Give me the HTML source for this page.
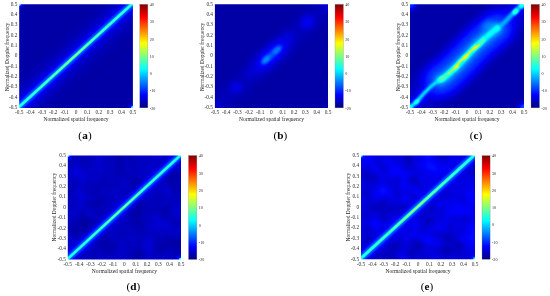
<!DOCTYPE html>
<html><head><meta charset="utf-8"><title>Figure</title>
<style>
html,body{margin:0;padding:0;background:#fff;}
body{width:550px;height:296px;overflow:hidden;}
svg{display:block;}
text{font-family:"Liberation Serif", "Times New Roman", serif;}
</style></head><body>
<svg width="550" height="296" viewBox="0 0 550 296">
<defs>
<linearGradient id="jetg" x1="0" y1="1" x2="0" y2="0"><stop offset="0" stop-color="rgb(0,0,128)"/><stop offset="0.125" stop-color="rgb(0,0,255)"/><stop offset="0.375" stop-color="rgb(0,255,255)"/><stop offset="0.625" stop-color="rgb(255,255,0)"/><stop offset="0.875" stop-color="rgb(255,0,0)"/><stop offset="1" stop-color="rgb(128,0,0)"/></linearGradient>
<filter id="jet" x="0" y="0" width="1" height="1" color-interpolation-filters="sRGB"><feComponentTransfer><feFuncR type="table" tableValues="0 0 0 0 0.5 1 1 1 0.5"/><feFuncG type="table" tableValues="0 0 0.5 1 1 1 0.5 0 0"/><feFuncB type="table" tableValues="0.5 1 1 1 0.5 0 0 0 0"/></feComponentTransfer></filter>
<filter id="bl6" x="-50%" y="-50%" width="200%" height="200%" color-interpolation-filters="sRGB"><feGaussianBlur stdDeviation="6"/></filter>
<filter id="bl3" x="-50%" y="-50%" width="200%" height="200%" color-interpolation-filters="sRGB"><feGaussianBlur stdDeviation="3"/></filter>
<filter id="bl1_6" x="-50%" y="-50%" width="200%" height="200%" color-interpolation-filters="sRGB"><feGaussianBlur stdDeviation="1.6"/></filter>
<filter id="bl1" x="-50%" y="-50%" width="200%" height="200%" color-interpolation-filters="sRGB"><feGaussianBlur stdDeviation="1.0"/></filter>
<filter id="bl0_65" x="-50%" y="-50%" width="200%" height="200%" color-interpolation-filters="sRGB"><feGaussianBlur stdDeviation="0.65"/></filter>
<filter id="bl0_5" x="-50%" y="-50%" width="200%" height="200%" color-interpolation-filters="sRGB"><feGaussianBlur stdDeviation="0.5"/></filter>
<filter id="bl1_5" x="-50%" y="-50%" width="200%" height="200%" color-interpolation-filters="sRGB"><feGaussianBlur stdDeviation="1.5"/></filter>
<filter id="bl0_6" x="-50%" y="-50%" width="200%" height="200%" color-interpolation-filters="sRGB"><feGaussianBlur stdDeviation="0.6"/></filter>
<filter id="bl5" x="-50%" y="-50%" width="200%" height="200%" color-interpolation-filters="sRGB"><feGaussianBlur stdDeviation="5"/></filter>
<filter id="bl2_5" x="-50%" y="-50%" width="200%" height="200%" color-interpolation-filters="sRGB"><feGaussianBlur stdDeviation="2.5"/></filter>
<filter id="bl2" x="-50%" y="-50%" width="200%" height="200%" color-interpolation-filters="sRGB"><feGaussianBlur stdDeviation="2"/></filter>
<filter id="bl4" x="-50%" y="-50%" width="200%" height="200%" color-interpolation-filters="sRGB"><feGaussianBlur stdDeviation="4"/></filter>
<filter id="bl1_8" x="-50%" y="-50%" width="200%" height="200%" color-interpolation-filters="sRGB"><feGaussianBlur stdDeviation="1.8"/></filter>
<filter id="bl1_7" x="-50%" y="-50%" width="200%" height="200%" color-interpolation-filters="sRGB"><feGaussianBlur stdDeviation="1.7"/></filter>
<filter id="bl2_2" x="-50%" y="-50%" width="200%" height="200%" color-interpolation-filters="sRGB"><feGaussianBlur stdDeviation="2.2"/></filter>
<filter id="bl0_9" x="-50%" y="-50%" width="200%" height="200%" color-interpolation-filters="sRGB"><feGaussianBlur stdDeviation="0.9"/></filter>
<filter id="bl1_2" x="-50%" y="-50%" width="200%" height="200%" color-interpolation-filters="sRGB"><feGaussianBlur stdDeviation="1.2"/></filter>
<filter id="bl1_3" x="-50%" y="-50%" width="200%" height="200%" color-interpolation-filters="sRGB"><feGaussianBlur stdDeviation="1.3"/></filter>
<filter id="bl0_7" x="-50%" y="-50%" width="200%" height="200%" color-interpolation-filters="sRGB"><feGaussianBlur stdDeviation="0.7"/></filter>
<filter id="bl1_1" x="-50%" y="-50%" width="200%" height="200%" color-interpolation-filters="sRGB"><feGaussianBlur stdDeviation="1.1"/></filter>
<filter id="bl0_75" x="-50%" y="-50%" width="200%" height="200%" color-interpolation-filters="sRGB"><feGaussianBlur stdDeviation="0.75"/></filter>
<filter id="nzd" x="0" y="0" width="1" height="1" color-interpolation-filters="sRGB" filterUnits="objectBoundingBox"><feTurbulence type="fractalNoise" baseFrequency="0.055" numOctaves="2" seed="3" stitchTiles="noStitch"/><feColorMatrix type="matrix" values="0.08 0 0 0 0.0220  0.08 0 0 0 0.0220  0.08 0 0 0 0.0220  0 0 0 0 1"/></filter>
<filter id="nze" x="0" y="0" width="1" height="1" color-interpolation-filters="sRGB" filterUnits="objectBoundingBox"><feTurbulence type="fractalNoise" baseFrequency="0.05" numOctaves="2" seed="7" stitchTiles="noStitch"/><feColorMatrix type="matrix" values="0.15 0 0 0 0.0200  0.15 0 0 0 0.0200  0.15 0 0 0 0.0200  0 0 0 0 1"/></filter>
<linearGradient id="ga" gradientUnits="userSpaceOnUse" x1="19.20" y1="107.90" x2="132.90" y2="4.30"><stop offset="0" stop-color="rgb(107,107,107)"/><stop offset="0.3" stop-color="rgb(122,122,122)"/><stop offset="0.5" stop-color="rgb(140,140,140)"/><stop offset="0.7" stop-color="rgb(122,122,122)"/><stop offset="1" stop-color="rgb(107,107,107)"/></linearGradient>
<linearGradient id="gd" gradientUnits="userSpaceOnUse" x1="67.80" y1="259.50" x2="181.00" y2="155.50"><stop offset="0" stop-color="rgb(107,107,107)"/><stop offset="0.3" stop-color="rgb(120,120,120)"/><stop offset="0.5" stop-color="rgb(140,140,140)"/><stop offset="0.7" stop-color="rgb(120,120,120)"/><stop offset="1" stop-color="rgb(107,107,107)"/></linearGradient>
<linearGradient id="ge" gradientUnits="userSpaceOnUse" x1="361.00" y1="259.30" x2="475.00" y2="155.60"><stop offset="0" stop-color="rgb(107,107,107)"/><stop offset="0.3" stop-color="rgb(122,122,122)"/><stop offset="0.5" stop-color="rgb(143,143,143)"/><stop offset="0.7" stop-color="rgb(122,122,122)"/><stop offset="1" stop-color="rgb(107,107,107)"/></linearGradient>
<clipPath id="clipa"><rect x="19.2" y="4.3" width="113.7" height="103.6"/></clipPath>
<clipPath id="clipb"><rect x="214.9" y="4.3" width="113.1" height="103.6"/></clipPath>
<clipPath id="clipc"><rect x="410" y="4.3" width="114" height="103.6"/></clipPath>
<clipPath id="clipd"><rect x="67.8" y="155.5" width="113.2" height="104"/></clipPath>
<clipPath id="clipe"><rect x="361" y="155.6" width="114" height="103.7"/></clipPath>
</defs>
<!-- subplot a -->
<g clip-path="url(#clipa)"><g filter="url(#jet)"><rect x="7.199999999999999" y="-7.7" width="137.7" height="127.6" fill="rgb(10,10,10)"/><path d="M13.95,111.54 L135.65,0.66" fill="none" stroke="rgb(18,18,18)" stroke-width="30" stroke-linecap="round" stroke-linejoin="round" filter="url(#bl6)"/><path d="M13.95,111.54 L135.65,0.66" fill="none" stroke="rgb(26,26,26)" stroke-width="16" stroke-linecap="round" stroke-linejoin="round" filter="url(#bl3)"/><path d="M13.95,111.54 L135.65,0.66" fill="none" stroke="rgb(38,38,38)" stroke-width="10" stroke-linecap="round" stroke-linejoin="round" filter="url(#bl1_6)"/><path d="M13.95,111.54 L135.65,0.66" fill="none" stroke="rgb(61,61,61)" stroke-width="5.5" stroke-linecap="round" stroke-linejoin="round" filter="url(#bl1)"/><path d="M13.95,111.54 L135.65,0.66" fill="none" stroke="rgb(93,93,93)" stroke-width="3.0" stroke-linecap="round" stroke-linejoin="round" filter="url(#bl0_65)"/><path d="M13.95,111.54 L135.65,0.66" fill="none" stroke="url(#ga)" stroke-width="1.4" stroke-linecap="round" stroke-linejoin="round" filter="url(#bl0_5)"/><ellipse cx="0" cy="0" rx="3" ry="3" transform="translate(19.70,4.80) rotate(0)" fill="rgb(43,43,43)" filter="url(#bl1_5)"/><ellipse cx="0" cy="0" rx="1.3" ry="1.3" transform="translate(19.50,4.60) rotate(0)" fill="rgb(92,92,92)" filter="url(#bl0_6)"/><ellipse cx="0" cy="0" rx="3" ry="3" transform="translate(132.40,107.40) rotate(0)" fill="rgb(48,48,48)" filter="url(#bl1_5)"/><ellipse cx="0" cy="0" rx="1.4" ry="1.4" transform="translate(132.60,107.60) rotate(0)" fill="rgb(107,107,107)" filter="url(#bl0_6)"/></g></g>
<rect x="139.8" y="4.3" width="8.1" height="103.6" fill="url(#jetg)" stroke="#888" stroke-width="0.3"/>
<text x="149.8" y="6.00" font-size="4.1" fill="#2c2c2c">40</text>
<text x="149.8" y="23.27" font-size="4.1" fill="#2c2c2c">30</text>
<text x="149.8" y="40.53" font-size="4.1" fill="#2c2c2c">20</text>
<text x="149.8" y="57.80" font-size="4.1" fill="#2c2c2c">10</text>
<text x="149.8" y="75.07" font-size="4.1" fill="#2c2c2c">0</text>
<text x="149.8" y="92.33" font-size="4.1" fill="#2c2c2c">-10</text>
<text x="149.8" y="109.60" font-size="4.1" fill="#2c2c2c">-20</text>
<text x="17.3" y="5.50" font-size="5.3" fill="#2c2c2c" text-anchor="end">0.5</text>
<text x="17.3" y="15.86" font-size="5.3" fill="#2c2c2c" text-anchor="end">0.4</text>
<text x="17.3" y="26.22" font-size="5.3" fill="#2c2c2c" text-anchor="end">0.3</text>
<text x="17.3" y="36.58" font-size="5.3" fill="#2c2c2c" text-anchor="end">0.2</text>
<text x="17.3" y="46.94" font-size="5.3" fill="#2c2c2c" text-anchor="end">0.1</text>
<text x="17.3" y="57.30" font-size="5.3" fill="#2c2c2c" text-anchor="end">0</text>
<text x="17.3" y="67.66" font-size="5.3" fill="#2c2c2c" text-anchor="end">-0.1</text>
<text x="17.3" y="78.02" font-size="5.3" fill="#2c2c2c" text-anchor="end">-0.2</text>
<text x="17.3" y="88.38" font-size="5.3" fill="#2c2c2c" text-anchor="end">-0.3</text>
<text x="17.3" y="98.74" font-size="5.3" fill="#2c2c2c" text-anchor="end">-0.4</text>
<text x="17.3" y="109.10" font-size="5.3" fill="#2c2c2c" text-anchor="end">-0.5</text>
<text x="19.20" y="113.70" font-size="5.3" fill="#2c2c2c" text-anchor="middle">-0.5</text>
<text x="30.57" y="113.70" font-size="5.3" fill="#2c2c2c" text-anchor="middle">-0.4</text>
<text x="41.94" y="113.70" font-size="5.3" fill="#2c2c2c" text-anchor="middle">-0.3</text>
<text x="53.31" y="113.70" font-size="5.3" fill="#2c2c2c" text-anchor="middle">-0.2</text>
<text x="64.68" y="113.70" font-size="5.3" fill="#2c2c2c" text-anchor="middle">-0.1</text>
<text x="76.05" y="113.70" font-size="5.3" fill="#2c2c2c" text-anchor="middle">0</text>
<text x="87.42" y="113.70" font-size="5.3" fill="#2c2c2c" text-anchor="middle">0.1</text>
<text x="98.79" y="113.70" font-size="5.3" fill="#2c2c2c" text-anchor="middle">0.2</text>
<text x="110.16" y="113.70" font-size="5.3" fill="#2c2c2c" text-anchor="middle">0.3</text>
<text x="121.53" y="113.70" font-size="5.3" fill="#2c2c2c" text-anchor="middle">0.4</text>
<text x="132.90" y="113.70" font-size="5.3" fill="#2c2c2c" text-anchor="middle">0.5</text>
<text x="76.05" y="120.90" font-size="5.5" fill="#262626" text-anchor="middle">Normalized spatial frequency</text>
<text transform="translate(8.70,57.00) rotate(-90)" x="0" y="0" font-size="5.5" fill="#262626" text-anchor="middle">Normalized Doppler frequency</text>
<text x="85.05" y="139.30" font-size="11.2" letter-spacing="0.1" fill="#000" text-anchor="middle">(<tspan font-weight="bold">a</tspan>)</text>
<!-- subplot b -->
<g clip-path="url(#clipb)"><g filter="url(#jet)"><rect x="202.9" y="-7.7" width="137.1" height="127.6" fill="rgb(10,10,10)"/><path d="M214.90,107.90 L328.00,4.30" fill="none" stroke="rgb(15,15,15)" stroke-width="22" stroke-linecap="round" stroke-linejoin="round" filter="url(#bl5)"/><ellipse cx="0" cy="0" rx="6" ry="5.5" transform="translate(236.30,87.40) rotate(0)" fill="rgb(27,27,27)" filter="url(#bl2_5)"/><ellipse cx="0" cy="0" rx="6" ry="4" transform="translate(249.00,74.50) rotate(-42.4897941625377)" fill="rgb(20,20,20)" filter="url(#bl2_5)"/><ellipse cx="0" cy="0" rx="6" ry="5" transform="translate(288.50,37.50) rotate(-42.4897941625377)" fill="rgb(22,22,22)" filter="url(#bl2_5)"/><ellipse cx="0" cy="0" rx="7" ry="6.5" transform="translate(307.30,22.00) rotate(-42.4897941625377)" fill="rgb(29,29,29)" filter="url(#bl2_5)"/><ellipse cx="0" cy="0" rx="5" ry="5" transform="translate(326.00,6.30) rotate(0)" fill="rgb(22,22,22)" filter="url(#bl2)"/><ellipse cx="0" cy="0" rx="5" ry="5" transform="translate(216.90,105.90) rotate(0)" fill="rgb(20,20,20)" filter="url(#bl2)"/><ellipse cx="0" cy="0" rx="26" ry="9" transform="translate(271.50,55.00) rotate(-42.4897941625377)" fill="rgb(27,27,27)" filter="url(#bl4)"/><ellipse cx="0" cy="0" rx="16" ry="5" transform="translate(271.50,55.00) rotate(-42.4897941625377)" fill="rgb(41,41,41)" filter="url(#bl3)"/><ellipse cx="0" cy="0" rx="12" ry="2.6" transform="translate(271.50,55.00) rotate(-42.4897941625377)" fill="rgb(51,51,51)" filter="url(#bl1_8)"/><ellipse cx="0" cy="0" rx="5.5" ry="2.6" transform="translate(266.00,59.60) rotate(-42.4897941625377)" fill="rgb(69,69,69)" filter="url(#bl1_7)"/><ellipse cx="0" cy="0" rx="5.5" ry="2.6" transform="translate(277.00,50.10) rotate(-42.4897941625377)" fill="rgb(64,64,64)" filter="url(#bl1_7)"/></g></g>
<rect x="335" y="4.3" width="8.4" height="103.6" fill="url(#jetg)" stroke="#888" stroke-width="0.3"/>
<text x="345.29999999999995" y="6.00" font-size="4.1" fill="#2c2c2c">40</text>
<text x="345.29999999999995" y="23.27" font-size="4.1" fill="#2c2c2c">30</text>
<text x="345.29999999999995" y="40.53" font-size="4.1" fill="#2c2c2c">20</text>
<text x="345.29999999999995" y="57.80" font-size="4.1" fill="#2c2c2c">10</text>
<text x="345.29999999999995" y="75.07" font-size="4.1" fill="#2c2c2c">0</text>
<text x="345.29999999999995" y="92.33" font-size="4.1" fill="#2c2c2c">-10</text>
<text x="345.29999999999995" y="109.60" font-size="4.1" fill="#2c2c2c">-20</text>
<text x="213.0" y="5.50" font-size="5.3" fill="#2c2c2c" text-anchor="end">0.5</text>
<text x="213.0" y="15.86" font-size="5.3" fill="#2c2c2c" text-anchor="end">0.4</text>
<text x="213.0" y="26.22" font-size="5.3" fill="#2c2c2c" text-anchor="end">0.3</text>
<text x="213.0" y="36.58" font-size="5.3" fill="#2c2c2c" text-anchor="end">0.2</text>
<text x="213.0" y="46.94" font-size="5.3" fill="#2c2c2c" text-anchor="end">0.1</text>
<text x="213.0" y="57.30" font-size="5.3" fill="#2c2c2c" text-anchor="end">0</text>
<text x="213.0" y="67.66" font-size="5.3" fill="#2c2c2c" text-anchor="end">-0.1</text>
<text x="213.0" y="78.02" font-size="5.3" fill="#2c2c2c" text-anchor="end">-0.2</text>
<text x="213.0" y="88.38" font-size="5.3" fill="#2c2c2c" text-anchor="end">-0.3</text>
<text x="213.0" y="98.74" font-size="5.3" fill="#2c2c2c" text-anchor="end">-0.4</text>
<text x="213.0" y="109.10" font-size="5.3" fill="#2c2c2c" text-anchor="end">-0.5</text>
<text x="214.90" y="113.70" font-size="5.3" fill="#2c2c2c" text-anchor="middle">-0.5</text>
<text x="226.21" y="113.70" font-size="5.3" fill="#2c2c2c" text-anchor="middle">-0.4</text>
<text x="237.52" y="113.70" font-size="5.3" fill="#2c2c2c" text-anchor="middle">-0.3</text>
<text x="248.83" y="113.70" font-size="5.3" fill="#2c2c2c" text-anchor="middle">-0.2</text>
<text x="260.14" y="113.70" font-size="5.3" fill="#2c2c2c" text-anchor="middle">-0.1</text>
<text x="271.45" y="113.70" font-size="5.3" fill="#2c2c2c" text-anchor="middle">0</text>
<text x="282.76" y="113.70" font-size="5.3" fill="#2c2c2c" text-anchor="middle">0.1</text>
<text x="294.07" y="113.70" font-size="5.3" fill="#2c2c2c" text-anchor="middle">0.2</text>
<text x="305.38" y="113.70" font-size="5.3" fill="#2c2c2c" text-anchor="middle">0.3</text>
<text x="316.69" y="113.70" font-size="5.3" fill="#2c2c2c" text-anchor="middle">0.4</text>
<text x="328.00" y="113.70" font-size="5.3" fill="#2c2c2c" text-anchor="middle">0.5</text>
<text x="271.45" y="120.90" font-size="5.5" fill="#262626" text-anchor="middle">Normalized spatial frequency</text>
<text transform="translate(204.00,57.00) rotate(-90)" x="0" y="0" font-size="5.5" fill="#262626" text-anchor="middle">Normalized Doppler frequency</text>
<text x="280.45" y="139.30" font-size="11.2" letter-spacing="0.1" fill="#000" text-anchor="middle">(<tspan font-weight="bold">b</tspan>)</text>
<!-- subplot c -->
<g clip-path="url(#clipc)"><g filter="url(#jet)"><rect x="398" y="-7.7" width="138" height="127.6" fill="rgb(11,11,11)"/><path d="M408.00,110.00 L410.00,107.30 L416.70,101.80 L424.50,92.80 L430.00,87.30 L435.60,82.80 L442.30,78.90 L455.80,66.60 L467.00,56.00 L477.60,44.50 L489.90,34.00 L497.10,28.40 L505.20,21.80 L510.30,16.20 L515.40,11.60 L520.50,6.00 L526.00,1.00" fill="none" stroke="rgb(22,22,22)" stroke-width="28" stroke-linecap="round" stroke-linejoin="round" filter="url(#bl6)"/><path d="M408.00,110.00 L410.00,107.30 L416.70,101.80 L424.50,92.80 L430.00,87.30 L435.60,82.80 L442.30,78.90 L455.80,66.60 L467.00,56.00 L477.60,44.50 L489.90,34.00 L497.10,28.40 L505.20,21.80 L510.30,16.20 L515.40,11.60 L520.50,6.00 L526.00,1.00" fill="none" stroke="rgb(43,43,43)" stroke-width="8" stroke-linecap="round" stroke-linejoin="round" filter="url(#bl2)"/><path d="M440.00,80.00 L444.30,78.00 L456.80,66.60 L467.00,56.00 L477.60,44.50 L489.90,34.00 L497.10,28.40" fill="none" stroke="rgb(38,38,38)" stroke-width="36" stroke-linecap="round" stroke-linejoin="round" filter="url(#bl6)"/><path d="M440.00,80.00 L444.30,78.00 L456.80,66.60 L467.00,56.00 L477.60,44.50 L489.90,34.00 L497.10,28.40" fill="none" stroke="rgb(52,52,52)" stroke-width="24" stroke-linecap="round" stroke-linejoin="round" filter="url(#bl4)"/><path d="M440.00,80.00 L444.30,78.00 L456.80,66.60 L467.00,56.00 L477.60,44.50 L489.90,34.00 L497.10,28.40" fill="none" stroke="rgb(74,74,74)" stroke-width="11" stroke-linecap="round" stroke-linejoin="round" filter="url(#bl2_2)"/><ellipse cx="0" cy="0" rx="6" ry="4" transform="translate(487.50,26.00) rotate(-42.26368100977402)" fill="rgb(66,66,66)" filter="url(#bl2_5)"/><ellipse cx="0" cy="0" rx="5" ry="3.5" transform="translate(494.00,28.50) rotate(-42.26368100977402)" fill="rgb(76,76,76)" filter="url(#bl2_2)"/><path d="M408.00,110.00 L410.00,107.30 L416.70,101.80 L424.50,92.80 L430.00,87.30 L435.60,82.80 L442.30,78.90" fill="none" stroke="rgb(94,94,94)" stroke-width="3.2" stroke-linecap="round" stroke-linejoin="round" filter="url(#bl0_9)"/><path d="M489.90,34.00 L497.10,28.40 L505.20,21.80 L510.30,16.20 L515.40,11.60 L520.50,6.00 L526.00,1.00" fill="none" stroke="rgb(76,76,76)" stroke-width="4.5" stroke-linecap="round" stroke-linejoin="round" filter="url(#bl1_2)"/><path d="M440.00,80.00 L444.30,78.00 L456.80,66.60 L467.00,56.00 L477.60,44.50 L489.90,34.00 L497.10,28.40" fill="none" stroke="rgb(97,97,97)" stroke-width="5.5" stroke-linecap="round" stroke-linejoin="round" filter="url(#bl1_3)"/><path d="M440.50,79.50 L448.50,73.50 L456.00,67.00 L460.00,61.50 L465.50,56.90 L472.00,50.00 L479.00,45.10 L484.00,39.50" fill="none" stroke="rgb(120,120,120)" stroke-width="3.2" stroke-linecap="round" stroke-linejoin="round" filter="url(#bl0_9)"/><path d="M456.00,67.00 L460.00,61.50 L465.50,56.90 L472.00,50.00 L479.00,45.10" fill="none" stroke="rgb(148,148,148)" stroke-width="1.8" stroke-linecap="round" stroke-linejoin="round" filter="url(#bl0_7)"/><path d="M448.50,73.50 L456.00,67.00" fill="none" stroke="rgb(133,133,133)" stroke-width="1.6" stroke-linecap="round" stroke-linejoin="round" filter="url(#bl0_7)"/><ellipse cx="0" cy="0" rx="3" ry="1.5" transform="translate(456.00,67.00) rotate(-42.26368100977402)" fill="rgb(158,158,158)" filter="url(#bl0_9)"/><ellipse cx="0" cy="0" rx="3" ry="1.5" transform="translate(465.50,56.90) rotate(-42.26368100977402)" fill="rgb(168,168,168)" filter="url(#bl0_9)"/><ellipse cx="0" cy="0" rx="3" ry="1.5" transform="translate(474.60,47.70) rotate(-42.26368100977402)" fill="rgb(153,153,153)" filter="url(#bl0_9)"/><ellipse cx="0" cy="0" rx="2.5" ry="1.8" transform="translate(442.30,78.90) rotate(-42.26368100977402)" fill="rgb(117,117,117)" filter="url(#bl1)"/><ellipse cx="0" cy="0" rx="3" ry="2.2" transform="translate(497.10,28.40) rotate(-42.26368100977402)" fill="rgb(97,97,97)" filter="url(#bl1_3)"/><ellipse cx="0" cy="0" rx="3.2" ry="2.2" transform="translate(515.40,11.60) rotate(-42.26368100977402)" fill="rgb(117,117,117)" filter="url(#bl1_1)"/><ellipse cx="0" cy="0" rx="3" ry="2.5" transform="translate(522.00,5.50) rotate(-42.26368100977402)" fill="rgb(107,107,107)" filter="url(#bl1_1)"/><ellipse cx="0" cy="0" rx="2.8" ry="1.8" transform="translate(416.70,101.80) rotate(-42.26368100977402)" fill="rgb(115,115,115)" filter="url(#bl1)"/><ellipse cx="0" cy="0" rx="2" ry="2" transform="translate(410.50,107.00) rotate(-42.26368100977402)" fill="rgb(107,107,107)" filter="url(#bl1)"/><ellipse cx="0" cy="0" rx="5" ry="5" transform="translate(410.50,4.80) rotate(0)" fill="rgb(51,51,51)" filter="url(#bl2_5)"/><ellipse cx="0" cy="0" rx="4" ry="4" transform="translate(523.50,107.40) rotate(0)" fill="rgb(61,61,61)" filter="url(#bl2)"/></g></g>
<rect x="531" y="4.3" width="8.5" height="103.6" fill="url(#jetg)" stroke="#888" stroke-width="0.3"/>
<text x="541.4" y="6.00" font-size="4.1" fill="#2c2c2c">40</text>
<text x="541.4" y="23.27" font-size="4.1" fill="#2c2c2c">30</text>
<text x="541.4" y="40.53" font-size="4.1" fill="#2c2c2c">20</text>
<text x="541.4" y="57.80" font-size="4.1" fill="#2c2c2c">10</text>
<text x="541.4" y="75.07" font-size="4.1" fill="#2c2c2c">0</text>
<text x="541.4" y="92.33" font-size="4.1" fill="#2c2c2c">-10</text>
<text x="541.4" y="109.60" font-size="4.1" fill="#2c2c2c">-20</text>
<text x="408.1" y="5.50" font-size="5.3" fill="#2c2c2c" text-anchor="end">0.5</text>
<text x="408.1" y="15.86" font-size="5.3" fill="#2c2c2c" text-anchor="end">0.4</text>
<text x="408.1" y="26.22" font-size="5.3" fill="#2c2c2c" text-anchor="end">0.3</text>
<text x="408.1" y="36.58" font-size="5.3" fill="#2c2c2c" text-anchor="end">0.2</text>
<text x="408.1" y="46.94" font-size="5.3" fill="#2c2c2c" text-anchor="end">0.1</text>
<text x="408.1" y="57.30" font-size="5.3" fill="#2c2c2c" text-anchor="end">0</text>
<text x="408.1" y="67.66" font-size="5.3" fill="#2c2c2c" text-anchor="end">-0.1</text>
<text x="408.1" y="78.02" font-size="5.3" fill="#2c2c2c" text-anchor="end">-0.2</text>
<text x="408.1" y="88.38" font-size="5.3" fill="#2c2c2c" text-anchor="end">-0.3</text>
<text x="408.1" y="98.74" font-size="5.3" fill="#2c2c2c" text-anchor="end">-0.4</text>
<text x="408.1" y="109.10" font-size="5.3" fill="#2c2c2c" text-anchor="end">-0.5</text>
<text x="410.00" y="113.70" font-size="5.3" fill="#2c2c2c" text-anchor="middle">-0.5</text>
<text x="421.40" y="113.70" font-size="5.3" fill="#2c2c2c" text-anchor="middle">-0.4</text>
<text x="432.80" y="113.70" font-size="5.3" fill="#2c2c2c" text-anchor="middle">-0.3</text>
<text x="444.20" y="113.70" font-size="5.3" fill="#2c2c2c" text-anchor="middle">-0.2</text>
<text x="455.60" y="113.70" font-size="5.3" fill="#2c2c2c" text-anchor="middle">-0.1</text>
<text x="467.00" y="113.70" font-size="5.3" fill="#2c2c2c" text-anchor="middle">0</text>
<text x="478.40" y="113.70" font-size="5.3" fill="#2c2c2c" text-anchor="middle">0.1</text>
<text x="489.80" y="113.70" font-size="5.3" fill="#2c2c2c" text-anchor="middle">0.2</text>
<text x="501.20" y="113.70" font-size="5.3" fill="#2c2c2c" text-anchor="middle">0.3</text>
<text x="512.60" y="113.70" font-size="5.3" fill="#2c2c2c" text-anchor="middle">0.4</text>
<text x="524.00" y="113.70" font-size="5.3" fill="#2c2c2c" text-anchor="middle">0.5</text>
<text x="467.00" y="120.90" font-size="5.5" fill="#262626" text-anchor="middle">Normalized spatial frequency</text>
<text transform="translate(399.50,57.00) rotate(-90)" x="0" y="0" font-size="5.5" fill="#262626" text-anchor="middle">Normalized Doppler frequency</text>
<text x="476.00" y="139.30" font-size="11.2" letter-spacing="0.1" fill="#000" text-anchor="middle">(<tspan font-weight="bold">c</tspan>)</text>
<!-- subplot d -->
<g clip-path="url(#clipd)"><g filter="url(#jet)"><rect x="55.8" y="143.5" width="137.2" height="128" fill="rgb(15,15,15)" filter="url(#nzd)"/><path d="M63.00,263.17 L184.20,151.83" fill="none" stroke="rgb(22,22,22)" stroke-width="12" stroke-linecap="round" stroke-linejoin="round" filter="url(#bl3)"/><path d="M63.00,263.17 L184.20,151.83" fill="none" stroke="rgb(36,36,36)" stroke-width="10" stroke-linecap="round" stroke-linejoin="round" filter="url(#bl1_8)"/><path d="M63.00,263.17 L184.20,151.83" fill="none" stroke="rgb(59,59,59)" stroke-width="5.5" stroke-linecap="round" stroke-linejoin="round" filter="url(#bl1_1)"/><path d="M63.00,263.17 L184.20,151.83" fill="none" stroke="rgb(92,92,92)" stroke-width="2.8" stroke-linecap="round" stroke-linejoin="round" filter="url(#bl0_7)"/><path d="M63.00,263.17 L184.20,151.83" fill="none" stroke="url(#gd)" stroke-width="1.3" stroke-linecap="round" stroke-linejoin="round" filter="url(#bl0_5)"/><ellipse cx="0" cy="0" rx="3" ry="3" transform="translate(68.30,156.00) rotate(0)" fill="rgb(43,43,43)" filter="url(#bl1_5)"/><ellipse cx="0" cy="0" rx="1.3" ry="1.3" transform="translate(68.10,155.80) rotate(0)" fill="rgb(92,92,92)" filter="url(#bl0_6)"/><ellipse cx="0" cy="0" rx="3" ry="3" transform="translate(180.50,259.00) rotate(0)" fill="rgb(48,48,48)" filter="url(#bl1_5)"/><ellipse cx="0" cy="0" rx="1.4" ry="1.4" transform="translate(180.70,259.20) rotate(0)" fill="rgb(107,107,107)" filter="url(#bl0_6)"/></g></g>
<rect x="188.5" y="155.5" width="8.4" height="104" fill="url(#jetg)" stroke="#888" stroke-width="0.3"/>
<text x="198.8" y="157.20" font-size="4.1" fill="#2c2c2c">40</text>
<text x="198.8" y="174.53" font-size="4.1" fill="#2c2c2c">30</text>
<text x="198.8" y="191.87" font-size="4.1" fill="#2c2c2c">20</text>
<text x="198.8" y="209.20" font-size="4.1" fill="#2c2c2c">10</text>
<text x="198.8" y="226.53" font-size="4.1" fill="#2c2c2c">0</text>
<text x="198.8" y="243.87" font-size="4.1" fill="#2c2c2c">-10</text>
<text x="198.8" y="261.20" font-size="4.1" fill="#2c2c2c">-20</text>
<text x="65.89999999999999" y="156.70" font-size="5.3" fill="#2c2c2c" text-anchor="end">0.5</text>
<text x="65.89999999999999" y="167.10" font-size="5.3" fill="#2c2c2c" text-anchor="end">0.4</text>
<text x="65.89999999999999" y="177.50" font-size="5.3" fill="#2c2c2c" text-anchor="end">0.3</text>
<text x="65.89999999999999" y="187.90" font-size="5.3" fill="#2c2c2c" text-anchor="end">0.2</text>
<text x="65.89999999999999" y="198.30" font-size="5.3" fill="#2c2c2c" text-anchor="end">0.1</text>
<text x="65.89999999999999" y="208.70" font-size="5.3" fill="#2c2c2c" text-anchor="end">0</text>
<text x="65.89999999999999" y="219.10" font-size="5.3" fill="#2c2c2c" text-anchor="end">-0.1</text>
<text x="65.89999999999999" y="229.50" font-size="5.3" fill="#2c2c2c" text-anchor="end">-0.2</text>
<text x="65.89999999999999" y="239.90" font-size="5.3" fill="#2c2c2c" text-anchor="end">-0.3</text>
<text x="65.89999999999999" y="250.30" font-size="5.3" fill="#2c2c2c" text-anchor="end">-0.4</text>
<text x="65.89999999999999" y="260.70" font-size="5.3" fill="#2c2c2c" text-anchor="end">-0.5</text>
<text x="67.80" y="265.90" font-size="5.3" fill="#2c2c2c" text-anchor="middle">-0.5</text>
<text x="79.12" y="265.90" font-size="5.3" fill="#2c2c2c" text-anchor="middle">-0.4</text>
<text x="90.44" y="265.90" font-size="5.3" fill="#2c2c2c" text-anchor="middle">-0.3</text>
<text x="101.76" y="265.90" font-size="5.3" fill="#2c2c2c" text-anchor="middle">-0.2</text>
<text x="113.08" y="265.90" font-size="5.3" fill="#2c2c2c" text-anchor="middle">-0.1</text>
<text x="124.40" y="265.90" font-size="5.3" fill="#2c2c2c" text-anchor="middle">0</text>
<text x="135.72" y="265.90" font-size="5.3" fill="#2c2c2c" text-anchor="middle">0.1</text>
<text x="147.04" y="265.90" font-size="5.3" fill="#2c2c2c" text-anchor="middle">0.2</text>
<text x="158.36" y="265.90" font-size="5.3" fill="#2c2c2c" text-anchor="middle">0.3</text>
<text x="169.68" y="265.90" font-size="5.3" fill="#2c2c2c" text-anchor="middle">0.4</text>
<text x="181.00" y="265.90" font-size="5.3" fill="#2c2c2c" text-anchor="middle">0.5</text>
<text x="124.40" y="272.50" font-size="5.5" fill="#262626" text-anchor="middle">Normalized spatial frequency</text>
<text transform="translate(56.30,207.20) rotate(-90)" x="0" y="0" font-size="5.5" fill="#262626" text-anchor="middle">Normalized Doppler frequency</text>
<text x="133.40" y="290.40" font-size="11.2" letter-spacing="0.1" fill="#000" text-anchor="middle">(<tspan font-weight="bold">d</tspan>)</text>
<!-- subplot e -->
<g clip-path="url(#clipe)"><g filter="url(#jet)"><rect x="349" y="143.6" width="138" height="127.7" fill="rgb(22,22,22)" filter="url(#nze)"/><path d="M355.90,262.94 L477.90,151.96" fill="none" stroke="rgb(28,28,28)" stroke-width="12" stroke-linecap="round" stroke-linejoin="round" filter="url(#bl3)"/><path d="M355.90,262.94 L477.90,151.96" fill="none" stroke="rgb(38,38,38)" stroke-width="10" stroke-linecap="round" stroke-linejoin="round" filter="url(#bl1_8)"/><path d="M355.90,262.94 L477.90,151.96" fill="none" stroke="rgb(61,61,61)" stroke-width="6.0" stroke-linecap="round" stroke-linejoin="round" filter="url(#bl1_1)"/><path d="M355.90,262.94 L477.90,151.96" fill="none" stroke="rgb(93,93,93)" stroke-width="3.2" stroke-linecap="round" stroke-linejoin="round" filter="url(#bl0_75)"/><path d="M355.90,262.94 L477.90,151.96" fill="none" stroke="url(#ge)" stroke-width="1.5" stroke-linecap="round" stroke-linejoin="round" filter="url(#bl0_5)"/><ellipse cx="0" cy="0" rx="3" ry="3" transform="translate(361.50,156.10) rotate(0)" fill="rgb(43,43,43)" filter="url(#bl1_5)"/><ellipse cx="0" cy="0" rx="1.3" ry="1.3" transform="translate(361.30,155.90) rotate(0)" fill="rgb(92,92,92)" filter="url(#bl0_6)"/><ellipse cx="0" cy="0" rx="3" ry="3" transform="translate(474.50,258.80) rotate(0)" fill="rgb(48,48,48)" filter="url(#bl1_5)"/><ellipse cx="0" cy="0" rx="1.4" ry="1.4" transform="translate(474.70,259.00) rotate(0)" fill="rgb(107,107,107)" filter="url(#bl0_6)"/></g></g>
<rect x="482" y="155.6" width="8.1" height="103.7" fill="url(#jetg)" stroke="#888" stroke-width="0.3"/>
<text x="492.0" y="157.30" font-size="4.1" fill="#2c2c2c">40</text>
<text x="492.0" y="174.58" font-size="4.1" fill="#2c2c2c">30</text>
<text x="492.0" y="191.87" font-size="4.1" fill="#2c2c2c">20</text>
<text x="492.0" y="209.15" font-size="4.1" fill="#2c2c2c">10</text>
<text x="492.0" y="226.43" font-size="4.1" fill="#2c2c2c">0</text>
<text x="492.0" y="243.72" font-size="4.1" fill="#2c2c2c">-10</text>
<text x="492.0" y="261.00" font-size="4.1" fill="#2c2c2c">-20</text>
<text x="359.1" y="156.80" font-size="5.3" fill="#2c2c2c" text-anchor="end">0.5</text>
<text x="359.1" y="167.17" font-size="5.3" fill="#2c2c2c" text-anchor="end">0.4</text>
<text x="359.1" y="177.54" font-size="5.3" fill="#2c2c2c" text-anchor="end">0.3</text>
<text x="359.1" y="187.91" font-size="5.3" fill="#2c2c2c" text-anchor="end">0.2</text>
<text x="359.1" y="198.28" font-size="5.3" fill="#2c2c2c" text-anchor="end">0.1</text>
<text x="359.1" y="208.65" font-size="5.3" fill="#2c2c2c" text-anchor="end">0</text>
<text x="359.1" y="219.02" font-size="5.3" fill="#2c2c2c" text-anchor="end">-0.1</text>
<text x="359.1" y="229.39" font-size="5.3" fill="#2c2c2c" text-anchor="end">-0.2</text>
<text x="359.1" y="239.76" font-size="5.3" fill="#2c2c2c" text-anchor="end">-0.3</text>
<text x="359.1" y="250.13" font-size="5.3" fill="#2c2c2c" text-anchor="end">-0.4</text>
<text x="359.1" y="260.50" font-size="5.3" fill="#2c2c2c" text-anchor="end">-0.5</text>
<text x="361.00" y="265.70" font-size="5.3" fill="#2c2c2c" text-anchor="middle">-0.5</text>
<text x="372.40" y="265.70" font-size="5.3" fill="#2c2c2c" text-anchor="middle">-0.4</text>
<text x="383.80" y="265.70" font-size="5.3" fill="#2c2c2c" text-anchor="middle">-0.3</text>
<text x="395.20" y="265.70" font-size="5.3" fill="#2c2c2c" text-anchor="middle">-0.2</text>
<text x="406.60" y="265.70" font-size="5.3" fill="#2c2c2c" text-anchor="middle">-0.1</text>
<text x="418.00" y="265.70" font-size="5.3" fill="#2c2c2c" text-anchor="middle">0</text>
<text x="429.40" y="265.70" font-size="5.3" fill="#2c2c2c" text-anchor="middle">0.1</text>
<text x="440.80" y="265.70" font-size="5.3" fill="#2c2c2c" text-anchor="middle">0.2</text>
<text x="452.20" y="265.70" font-size="5.3" fill="#2c2c2c" text-anchor="middle">0.3</text>
<text x="463.60" y="265.70" font-size="5.3" fill="#2c2c2c" text-anchor="middle">0.4</text>
<text x="475.00" y="265.70" font-size="5.3" fill="#2c2c2c" text-anchor="middle">0.5</text>
<text x="418.00" y="272.80" font-size="5.5" fill="#262626" text-anchor="middle">Normalized spatial frequency</text>
<text transform="translate(349.50,207.15) rotate(-90)" x="0" y="0" font-size="5.5" fill="#262626" text-anchor="middle">Normalized Doppler frequency</text>
<text x="427.00" y="290.20" font-size="11.2" letter-spacing="0.1" fill="#000" text-anchor="middle">(<tspan font-weight="bold">e</tspan>)</text>
</svg></body></html>
